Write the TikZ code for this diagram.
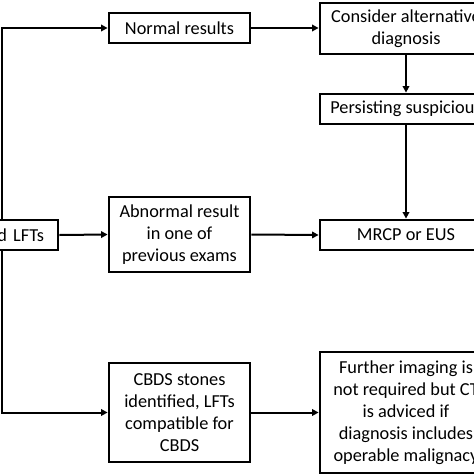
\documentclass[tikz,border=0pt]{standalone}
\usepackage{fontspec}
\setmainfont{Carlito}
\usetikzlibrary{arrows.meta}
\begin{document}
\begin{tikzpicture}[x=1pt,y=-1pt,
  box/.style={draw=black, line width=2.8pt, fill=white, align=center, inner sep=0pt},
  conn/.style={line width=2pt, -{Triangle[length=6.5pt,width=6.5pt]}},
  font=\fontsize{18.3}{22}\selectfont]
\useasboundingbox (0,0) rectangle (474,474);
\clip (0,0) rectangle (474,474);
\node[box, minimum width=141pt, minimum height=30pt] (normal) at (179.5,28) {Normal results};
\node[box, minimum width=172pt, minimum height=51pt] (consider) at (406,28.5) {Consider alternative\\diagnosis};
\node[box, minimum width=172pt, minimum height=30pt] (persist) at (406,109) {Persisting suspicious};
\node[box, minimum width=172pt, minimum height=30pt] (mrcp) at (406,235) {MRCP or EUS};
\node[box, minimum width=141pt, minimum height=75pt] (abnormal) at (179.5,234.5) {Abnormal result\\in one of\\previous exams};
\node[box, minimum width=141pt, minimum height=99pt] (cbds) at (179.5,412.5) {CBDS stones\\identified, LFTs\\compatible for\\CBDS};
\node[box, minimum width=172pt, minimum height=121pt] (further) at (406,412.5) {Further imaging is\\not required but CT\\is adviced if\\diagnosis includes\\operable malignacy};
\node[box, minimum width=118pt, minimum height=30pt, text width=90pt, inner xsep=14pt, align=right] (lfts) at (-1,235) {d LFTs};
\coordinate (tl) at (2,28);
\coordinate (bl) at (2,411);
\draw[conn] (normal) -- (consider.west |- normal);
\draw[conn] (consider.south) -- (persist.north);
\draw[conn] (persist.south) -- (mrcp.north);
\draw[conn] (lfts.east) -- (abnormal.west);
\draw[conn] (abnormal.east) -- (mrcp.west);
\draw[conn] (cbds.east) -- (further.west |- cbds.east);
\draw[conn] (lfts.north -| tl) |- (normal.west);
\draw[conn] (lfts.south -| bl) |- (cbds.west);
\end{tikzpicture}
\end{document}
